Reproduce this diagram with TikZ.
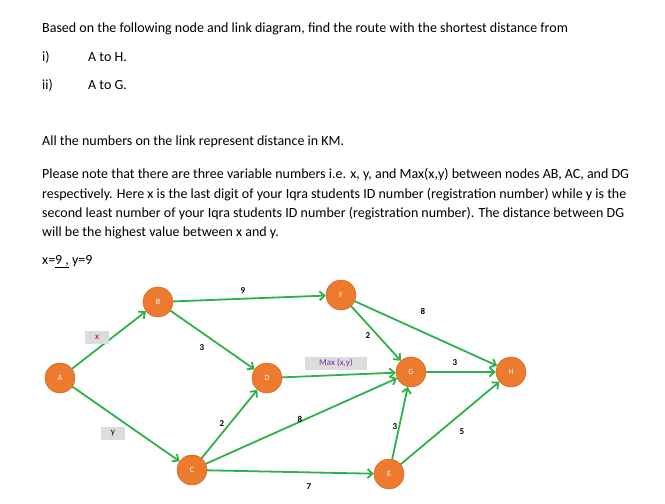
\documentclass[tikz,border=0pt]{standalone}
\usepackage{fontspec}
\setmainfont{Carlito}
\usetikzlibrary{arrows.meta}
\definecolor{nodeor}{HTML}{EE7A2E}
\definecolor{edgegr}{HTML}{2DB24A}
\definecolor{boxgr}{HTML}{DCDCDC}
\definecolor{maxpur}{HTML}{7030A0}
\begin{document}
\begin{tikzpicture}[x=1pt,y=-1pt,
  vtx/.style={circle,fill=nodeor,draw=nodeor!80!black,line width=0.4pt,minimum size=30pt,inner sep=0pt,text=white,font=\fontsize{8}{9}\selectfont},
  edge/.style={draw=edgegr,line width=1.8pt,-{Straight Barb[length=5pt,width=9pt]}},
  wlab/.style={font=\fontsize{9}{10}\selectfont\bfseries},
  gbox/.style={fill=boxgr,minimum height=13pt,inner sep=2pt,font=\fontsize{9}{10}\selectfont},
  txt/.style={anchor=base west,inner sep=0pt,font=\fontsize{14}{19.5}\selectfont}]
\useasboundingbox (0,0) rectangle (665,504);
\fill[white] (0,0) rectangle (665,504);
\node[txt] (t1) at (42,32) {Based on the following node and link diagram, find the route with the shortest distance from};
\node[txt] (t2) at (42,61) {i)};
\node[txt] (t3) at (88,61) {A to H.};
\node[txt] (t4) at (42,89) {ii)};
\node[txt] (t5) at (88,89) {A to G.};
\node[txt] (t6) at (42,145) {All the numbers on the link represent distance in KM.};
\node[txt] (t7a) at (42,178) {Please note that there are three variable numbers i.e. x, y, and Max(x,y) between nodes AB, AC, and DG};
\node[txt] (t7b) at (42,198) {respectively. Here x is the last digit of your Iqra students ID number (registration number) while y is the};
\node[txt] (t7c) at (42,217) {second least number of your Iqra students ID number (registration number). The distance between DG};
\node[txt] (t7d) at (42,236) {will be the highest value between x and y.};
\node[txt] (t8) at (42,264) {x=\underline{9 ,} y=9};
\node[vtx] (A) at (60,378) {A};
\node[vtx] (B) at (158,302) {B};
\node[vtx] (C) at (192,470) {C};
\node[vtx] (D) at (267,378) {D};
\node[vtx] (F) at (341,295) {F};
\node[vtx] (G) at (411,372) {G};
\node[vtx] (H) at (511,372) {H};
\node[vtx] (E) at (389,474) {E};
\draw[edge] (A) -- (B);
\draw[edge] (A) -- (C);
\draw[edge] (B) -- (F);
\draw[edge] (B) -- (D);
\draw[edge] (C) -- (D);
\draw[edge] (C) -- (G);
\draw[edge] (C) -- (E);
\draw[edge] (D) -- (G);
\draw[edge] (F) -- (G);
\draw[edge] (F) -- (H);
\draw[edge] (G) -- (H);
\draw[edge] (E) -- (G);
\draw[edge] (E) -- (H);
\node[gbox,minimum width=24pt,text=red!70!black] (lx) at (97,337) {x};
\node[gbox,minimum width=24pt] (ly) at (113,433) {y};
\node[gbox,minimum width=62pt,text=maxpur] (lm) at (336,363) {Max (x,y)};
\node[wlab] (w1) at (243,291) {9};
\node[wlab] (w2) at (202,348) {3};
\node[wlab] (w3) at (222,424) {2};
\node[wlab] (w4) at (300,419) {8};
\node[wlab] (w5) at (309,487) {7};
\node[wlab] (w6) at (368,336) {2};
\node[wlab] (w7) at (423,311) {8};
\node[wlab] (w8) at (455,363) {3};
\node[wlab] (w9) at (395,427) {3};
\node[wlab] (w10) at (462,432) {5};
\end{tikzpicture}
\end{document}
